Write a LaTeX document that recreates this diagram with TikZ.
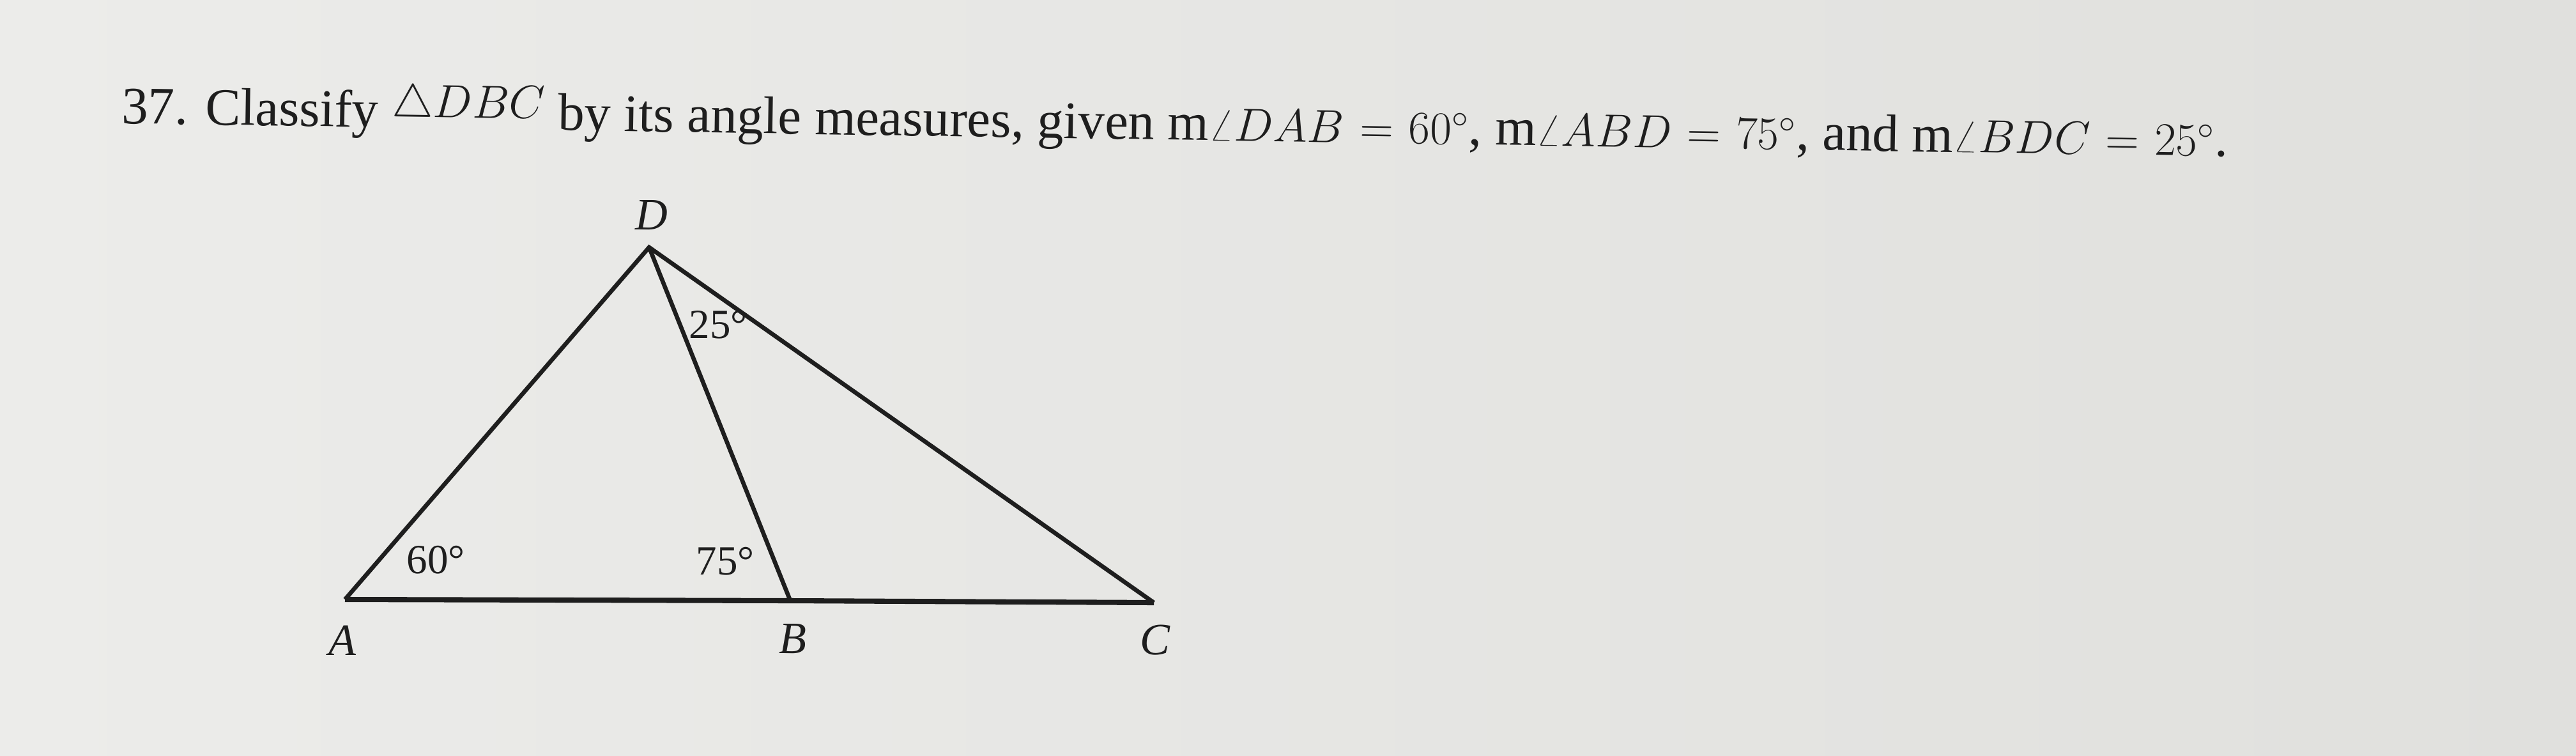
\documentclass[tikz,border=0pt]{standalone}
\usepackage{fontspec}
\setmainfont{Liberation Serif}
\definecolor{paper}{RGB}{224,224,221}
\definecolor{paperlight}{RGB}{236,236,234}
\definecolor{ink}{RGB}{30,30,30}
\newcommand{\angmeas}[2]{m{\fontsize{21}{24}\selectfont$\angle #1\mskip6mu{=}\mskip6mu#2^\circ$}}

\begin{document}
\begin{tikzpicture}[every node/.style={inner sep=0pt, text=ink},
            side/.style={draw=ink, line width=1.9pt, line join=miter}]
            \tikzset{base side/.style={draw=ink, line width=2.3pt}}
            \shade[left color=paperlight, right color=paper] (0,0) rectangle (40.32,11.82);
            \node[anchor=base west, rotate=-0.9, font=\fontsize{23.5}{27}\selectfont] (task) at (1.90,9.89)
                {37. Classify \raisebox{5pt}{\fontsize{20}{23}\selectfont$\triangle DBC$} by its angle measures, given \angmeas{DAB}{60}, \angmeas{ABD}{75}, and \angmeas{BDC}{25}.};
            \coordinate (vA) at (5.40, 2.44);
            \coordinate (vB) at (12.37, 2.42);
            \coordinate (vC) at (18.06, 2.39);
            \coordinate (vD) at (10.16, 7.95);
            \draw [side] (vA) -- (vD) -- (vC);
            \draw [side] (vD) edge (vB);
            \draw [base side] (vA) -- (vB) -- (vC);
            \node[font=\fontsize{20}{24}\selectfont\itshape] (lD) at (10.20, 8.45) {D};
            \node[font=\fontsize{20}{24}\selectfont\itshape] (lA) at (5.36, 1.80) {A};
            \node[font=\fontsize{20}{24}\selectfont\itshape] (lB) at (12.41, 1.82) {B};
            \node[font=\fontsize{20}{24}\selectfont\itshape] (lC) at (18.08, 1.80) {C};
            \node[font=\fontsize{18.5}{22}\selectfont] (aA) at (6.82, 3.06) {60°};
            \node[font=\fontsize{18.5}{22}\selectfont] (aB) at (11.35, 3.04) {75°};
            \node[font=\fontsize{18.5}{22}\selectfont] (aD) at (11.24, 6.74) {25°};
\end{tikzpicture}
\end{document}
